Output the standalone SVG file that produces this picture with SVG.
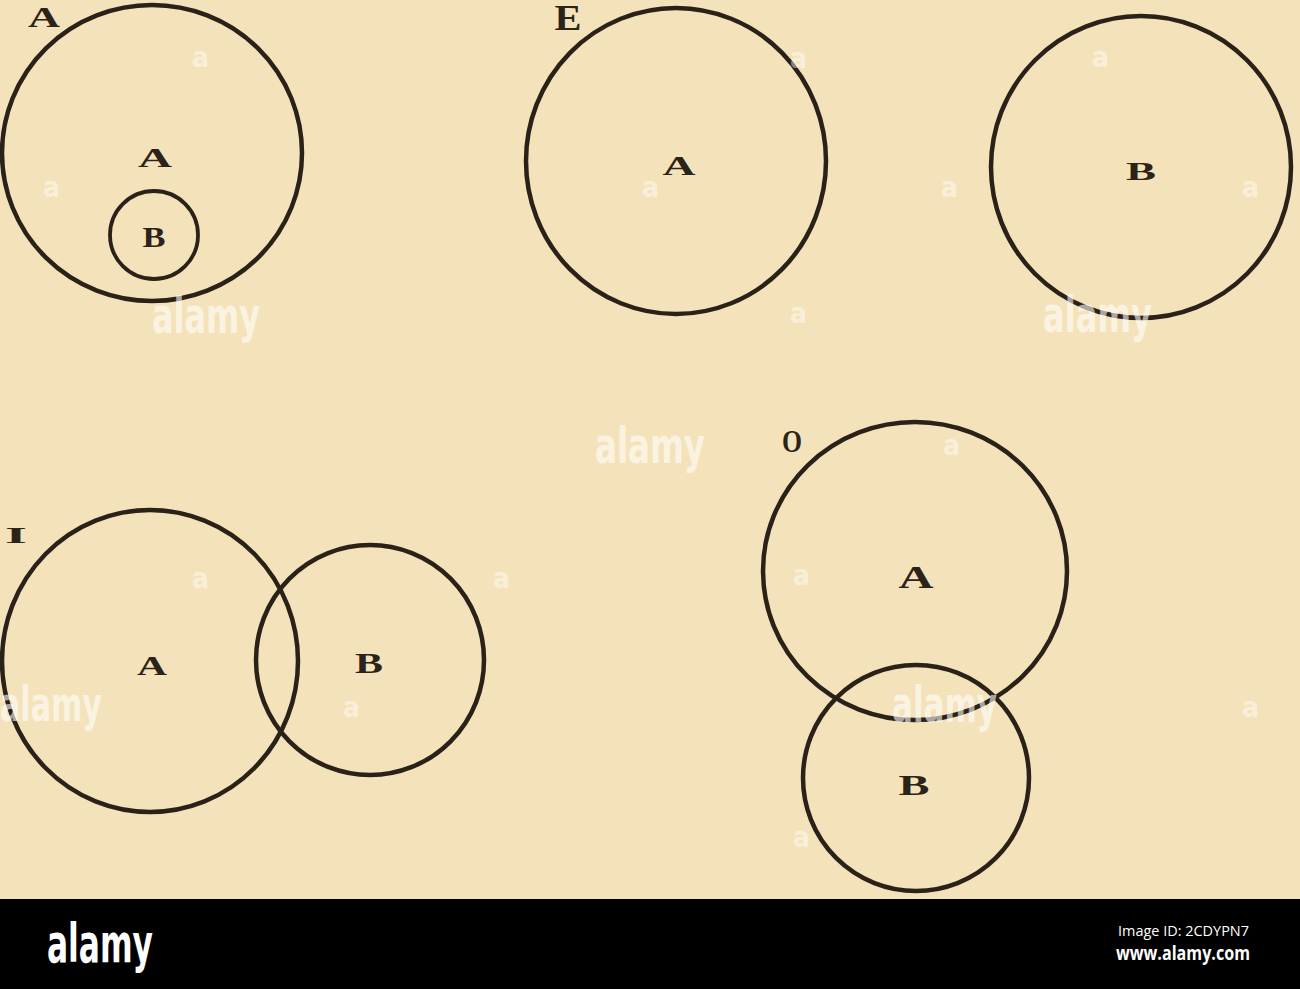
<svg xmlns="http://www.w3.org/2000/svg" width="1300" height="989" viewBox="0 0 1300 989">
<defs>
<style>
.bg{fill:#f4e3ba}
.c{fill:none;stroke:#2a2218;stroke-width:4.5}
.cs{fill:none;stroke:#2a2218;stroke-width:3.8}
.lb{font-family:"Liberation Serif","DejaVu Serif",serif;font-weight:bold;fill:#2b2319;text-anchor:middle}
.wm{font-family:"Liberation Sans Narrow","DejaVu Sans Condensed","Liberation Sans",sans-serif;font-weight:bold;fill:#ffffff;fill-opacity:0.6}
.logo{font-family:"Liberation Sans Narrow","DejaVu Sans Condensed","Liberation Sans",sans-serif;font-weight:bold;fill:#ffffff}
.wa{font-family:"Liberation Sans Narrow","DejaVu Sans Condensed","Liberation Sans",sans-serif;font-weight:bold;fill:#ffffff;fill-opacity:0.45;font-size:28px}
.ft{font-family:"Open Sans","Noto Sans","DejaVu Sans",sans-serif;fill:#ffffff}
</style>
</defs>
<rect class="bg" x="0" y="0" width="1300" height="989"/>

<g id="fig-A">
  <text class="lb" x="44" y="27" font-size="29" textLength="32" lengthAdjust="spacingAndGlyphs">A</text>
  <g id="figA-circleA">
    <ellipse class="c" cx="152" cy="153" rx="150" ry="148"/>
    <text class="lb" x="155" y="167" font-size="28" textLength="34" lengthAdjust="spacingAndGlyphs">A</text>
  </g>
  <g id="figA-circleB">
    <circle class="cs" cx="154" cy="235" r="44"/>
    <text class="lb" x="154" y="247" font-size="30" textLength="23" lengthAdjust="spacingAndGlyphs">B</text>
  </g>
</g>

<g id="fig-E">
  <text class="lb" x="568" y="30" font-size="36" textLength="27" lengthAdjust="spacingAndGlyphs">E</text>
  <g id="figE-circleA">
    <ellipse class="c" cx="676" cy="161" rx="150" ry="153"/>
    <text class="lb" x="679" y="175" font-size="27" textLength="33" lengthAdjust="spacingAndGlyphs">A</text>
  </g>
  <g id="figE-circleB">
    <ellipse class="c" cx="1141" cy="167" rx="150" ry="151"/>
    <text class="lb" x="1141" y="180" font-size="26" textLength="30" lengthAdjust="spacingAndGlyphs">B</text>
  </g>
</g>

<g id="fig-I">
  <text class="lb" x="16" y="543" font-size="24" textLength="22" lengthAdjust="spacingAndGlyphs">I</text>
  <g id="figI-circleA">
    <ellipse class="c" cx="150" cy="661" rx="148" ry="151"/>
    <text class="lb" x="152" y="675" font-size="27" textLength="30" lengthAdjust="spacingAndGlyphs">A</text>
  </g>
  <g id="figI-circleB">
    <ellipse class="c" cx="370" cy="660" rx="114" ry="115"/>
    <text class="lb" x="369" y="673" font-size="29" textLength="28" lengthAdjust="spacingAndGlyphs">B</text>
  </g>
</g>

<g id="fig-O">
  <text class="lb" x="792" y="452" font-size="31" textLength="20" lengthAdjust="spacingAndGlyphs">O</text>
  <g id="figO-circleA">
    <ellipse class="c" cx="915" cy="571" rx="152" ry="149"/>
    <text class="lb" x="916" y="588" font-size="31" textLength="35" lengthAdjust="spacingAndGlyphs">A</text>
  </g>
  <g id="figO-circleB">
    <circle class="c" cx="916" cy="778" r="113"/>
    <text class="lb" x="914" y="795" font-size="29" textLength="31" lengthAdjust="spacingAndGlyphs">B</text>
  </g>
</g>

<g id="connectors"/>

<g id="watermarks">
  <text class="wm" x="152" y="333" font-size="50" textLength="108" lengthAdjust="spacingAndGlyphs">alamy</text>
  <text class="wm" x="595" y="463" font-size="50" textLength="110" lengthAdjust="spacingAndGlyphs">alamy</text>
  <text class="wm" x="1043" y="332" font-size="50" textLength="109" lengthAdjust="spacingAndGlyphs">alamy</text>
  <text class="wm" x="0" y="721" font-size="48" textLength="102" lengthAdjust="spacingAndGlyphs">alamy</text>
  <text class="wm" x="892" y="722" font-size="50" textLength="105" lengthAdjust="spacingAndGlyphs">alamy</text>
  <text class="wa" x="192" y="67">a</text>
  <text class="wa" x="43" y="197">a</text>
  <text class="wa" x="790" y="68">a</text>
  <text class="wa" x="1092" y="67">a</text>
  <text class="wa" x="642" y="197">a</text>
  <text class="wa" x="941" y="197">a</text>
  <text class="wa" x="1242" y="197">a</text>
  <text class="wa" x="790" y="323">a</text>
  <text class="wa" x="192" y="588">a</text>
  <text class="wa" x="343" y="717">a</text>
  <text class="wa" x="493" y="588">a</text>
  <text class="wa" x="943" y="455">a</text>
  <text class="wa" x="793" y="585">a</text>
  <text class="wa" x="793" y="847">a</text>
  <text class="wa" x="1242" y="717">a</text>
</g>

<g id="footer">
  <rect x="0" y="899" width="1300" height="90" fill="#000000"/>
  <text class="logo" x="47" y="962" font-size="54" textLength="106" lengthAdjust="spacingAndGlyphs">alamy</text>
  <text class="ft" x="1118" y="936" font-size="15" textLength="131" lengthAdjust="spacingAndGlyphs">Image ID: 2CDYPN7</text>
  <text class="ft" x="1116" y="960" font-size="19" font-weight="bold" textLength="134" lengthAdjust="spacingAndGlyphs">www.alamy.com</text>
</g>
</svg>
